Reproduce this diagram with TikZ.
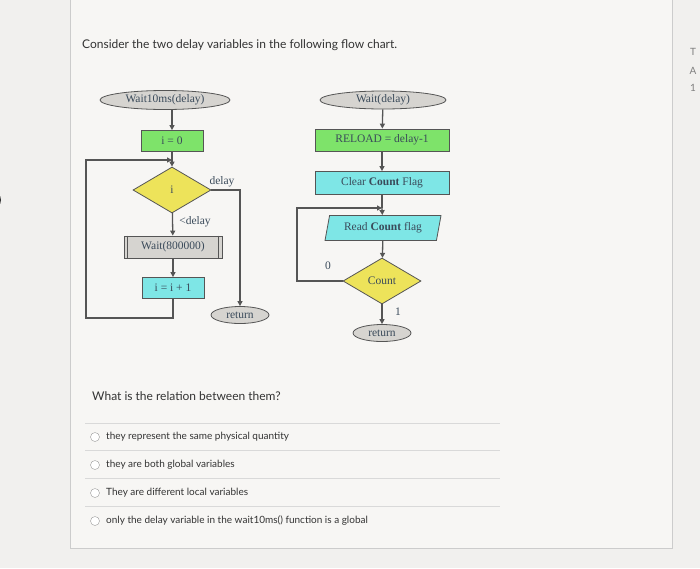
\documentclass[tikz,border=0pt]{standalone}
\usepackage{fontspec}
\setmainfont{Liberation Serif}
\newfontfamily\uifont{Lato}
\usetikzlibrary{shapes.geometric,shapes.multipart,arrows.meta}
\definecolor{bgc}{HTML}{F1F0EE}
\definecolor{cardc}{HTML}{F7F6F4}
\definecolor{linec}{HTML}{555555}
\definecolor{grn}{HTML}{7EE36A}
\definecolor{cyn}{HTML}{7EE6E6}
\definecolor{yel}{HTML}{EDE35A}
\definecolor{gry}{HTML}{D6D4D0}
\definecolor{txt}{HTML}{333333}
\definecolor{flowtxt}{HTML}{3A4A5A}
\tikzset{
  x=1pt,y=-1pt,
  ff/.style={font=\fontsize{11.5}{12}\selectfont,text=flowtxt},
  oval/.style={ellipse,draw=linec,fill=gry,line width=0.8pt,inner sep=0pt,ff},
  gbox/.style={rectangle,draw=linec,fill=grn,line width=0.8pt,inner sep=0pt,ff},
  cbox/.style={rectangle,draw=linec,fill=cyn,line width=0.8pt,inner sep=0pt,ff},
  dia/.style={diamond,draw=linec,fill=yel,line width=0.8pt,inner sep=0pt,aspect=1.7,ff},
  conn/.style={draw=linec,line width=1.3pt,-{Triangle[length=5pt,width=5pt]}},
  plain/.style={draw=linec,line width=1.3pt},
  lbl/.style={ff,inner sep=0pt},
  ui/.style={font=\uifont\fontsize{12}{14}\selectfont,text=txt,anchor=west,inner sep=0pt},
  opt/.style={font=\uifont\fontsize{10}{12}\selectfont,text=txt,anchor=west,inner sep=0pt},
  radio/.style={circle,draw=gray!80,fill=white,minimum size=9pt,inner sep=0pt},
}
\begin{document}
\begin{tikzpicture}
\useasboundingbox (0,0) rectangle (700,568);
\fill[bgc] (0,0) rectangle (700,568);
\fill[cardc,draw=gray!40] (70,-2) rectangle (672,548);
\fill[black!80] (-8,200) circle (9);
\node[font=\uifont\fontsize{10}{10}\selectfont,text=gray] (t1) at (693,52) {T};
\node[font=\uifont\fontsize{10}{10}\selectfont,text=gray] (t2) at (693,71) {A};
\node[font=\uifont\fontsize{10}{10}\selectfont,text=gray] (t3) at (693,88) {1};
\node[ui] (q1) at (82,45) {Consider the two delay variables in the following flow chart.};

% left flowchart
\node[oval,minimum width=130pt,minimum height=19pt] (w10) at (165,100) {Wait10ms(delay)};
\node[gbox,minimum width=62pt,minimum height=21pt] (i0) at (172,141) {i = 0};
\node[dia,minimum width=78pt,minimum height=46pt] (di) at (172,190) {i};
\node[rectangle,draw=linec,fill=gry,line width=0.8pt,minimum width=98pt,minimum height=22pt,inner sep=0pt,ff] (wt) at (173,247) {Wait(800000)};
\draw[linec,line width=0.8pt] ([xshift=4pt]wt.north west) -- ([xshift=4pt]wt.south west);
\draw[linec,line width=0.8pt] ([xshift=-4pt]wt.north east) -- ([xshift=-4pt]wt.south east);
\node[cbox,minimum width=62pt,minimum height=21pt] (inc) at (173,288) {i = i + 1};
\node[oval,minimum width=58pt,minimum height=17pt] (retl) at (240,315) {return};
\coordinate (jl) at (172,160);
\draw[conn] (w10.south -| i0.north) -- (i0.north);
\draw[plain] (i0) -- (jl);
\draw[conn] (jl) -- (di);
\draw[conn] (di) -- (wt);
\draw[conn] (wt) -- (inc);
\draw[conn] (inc.south) -- (173,318) -- (86,318) -- (86,160) -- (jl);
\draw[conn] (di.east) -- (240,190) -- (retl.north);
\node[lbl] (ld) at (222,182) {delay};
\node[lbl] (lld) at (195,222) {<delay};

% right flowchart
\node[oval,minimum width=126pt,minimum height=18pt] (wd) at (383,100) {Wait(delay)};
\node[gbox,minimum width=134pt,minimum height=22pt] (rl) at (382,140) {RELOAD = delay-1};
\node[cbox,minimum width=134pt,minimum height=23pt] (cf) at (382,183) {Clear \textbf{Count} Flag};
\node[trapezium,trapezium left angle=70,trapezium right angle=110,trapezium stretches body,draw=linec,fill=cyn,line width=0.8pt,minimum width=116pt,minimum height=25pt,inner xsep=0pt,inner ysep=1pt,ff] (rc) at (383,228) {Read \textbf{Count} flag};
\node[dia,minimum width=78pt,minimum height=46pt] (cn) at (382,281) {Count};
\node[oval,minimum width=58pt,minimum height=17pt] (retr) at (382,333) {return};
\coordinate (jr) at (382,208);
\draw[conn] (wd) -- (rl);
\draw[conn] (rl) -- (cf);
\draw[plain] (cf) -- (jr);
\draw[conn] (jr) -- (rc);
\draw[conn] (rc) -- (cn);
\draw[conn] (cn.west) -- (297,281) -- (297,208) -- (jr);
\draw[conn] (cn) -- (retr);
\node[lbl] (l0) at (328,266) {0};
\node[lbl] (l1) at (398,312) {1};

% question
\node[ui] (q2) at (92,396) {What is the relation between them?};
\foreach \yy in {423,450,478,506} \draw[gray!30,line width=0.7pt] (85,\yy) -- (500,\yy);
\node[radio] (r1) at (95,437) {};
\node[radio] (r2) at (95,465) {};
\node[radio] (r3) at (95,493) {};
\node[radio] (r4) at (95,521) {};
\node[opt] (o1) at (106,437) {they represent the same physical quantity};
\node[opt] (o2) at (106,465) {they are both global variables};
\node[opt] (o3) at (106,493) {They are different local variables};
\node[opt] (o4) at (106,521) {only the delay variable in the wait10ms() function is a global};
\end{tikzpicture}
\end{document}
